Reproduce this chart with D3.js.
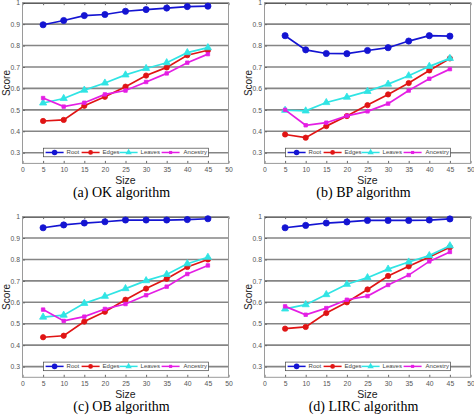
<!DOCTYPE html>
<html>
<head>
<meta charset="utf-8">
<script src="https://cdn.jsdelivr.net/npm/d3@7"></script>
<style>
  body { margin: 0; background: #fff; }
  svg { display: block; }
  .tick text { fill: #555; }
</style>
</head>
<body>
<svg id="chart" width="474" height="416"></svg>
<script>
// x values shared by all four panels
var sizes = [5, 10, 15, 20, 25, 30, 35, 40, 45];
var xTicks = [0, 5, 10, 15, 20, 25, 30, 35, 40, 45, 50];
var yTicks = [0.3, 0.4, 0.5, 0.6, 0.7, 0.8, 0.9, 1];
var seriesNames = ["Root", "Edges", "Leaves", "Ancestry"];
var titles = ["(a) OK algorithm", "(b) BP algorithm", "(c) OB algorithm", "(d) LIRC algorithm"];

// scores
var okRoot     = [0.897, 0.917, 0.940, 0.945, 0.960, 0.968, 0.975, 0.982, 0.984];
var okEdges    = [0.448, 0.453, 0.519, 0.561, 0.608, 0.660, 0.698, 0.755, 0.778];
var okLeaves   = [0.532, 0.553, 0.592, 0.625, 0.663, 0.693, 0.720, 0.767, 0.790];
var okAncestry = [0.555, 0.515, 0.533, 0.572, 0.590, 0.630, 0.670, 0.720, 0.760];

var bpRoot     = [0.846, 0.780, 0.763, 0.762, 0.777, 0.790, 0.821, 0.846, 0.844];
var bpEdges    = [0.385, 0.370, 0.424, 0.471, 0.522, 0.572, 0.625, 0.684, 0.740];
var bpLeaves   = [0.498, 0.495, 0.534, 0.559, 0.586, 0.620, 0.659, 0.703, 0.740];
var bpAncestry = [0.500, 0.428, 0.440, 0.472, 0.493, 0.529, 0.590, 0.645, 0.690];

var obRoot     = [0.948, 0.961, 0.970, 0.976, 0.984, 0.984, 0.984, 0.986, 0.990];
var obEdges    = [0.437, 0.444, 0.510, 0.556, 0.612, 0.664, 0.710, 0.765, 0.800];
var obLeaves   = [0.531, 0.540, 0.595, 0.628, 0.664, 0.701, 0.730, 0.780, 0.810];
var obAncestry = [0.566, 0.513, 0.533, 0.569, 0.592, 0.633, 0.673, 0.732, 0.772];

var lircRoot     = [0.948, 0.959, 0.970, 0.975, 0.982, 0.982, 0.982, 0.984, 0.989];
var lircEdges    = [0.477, 0.485, 0.550, 0.600, 0.660, 0.723, 0.768, 0.811, 0.857];
var lircLeaves   = [0.569, 0.589, 0.636, 0.684, 0.715, 0.755, 0.788, 0.818, 0.864];
var lircAncestry = [0.581, 0.542, 0.573, 0.612, 0.629, 0.681, 0.727, 0.791, 0.835];

var panelData = [
  [okRoot, okEdges, okLeaves, okAncestry],
  [bpRoot, bpEdges, bpLeaves, bpAncestry],
  [obRoot, obEdges, obLeaves, obAncestry],
  [lircRoot, lircEdges, lircLeaves, lircAncestry]
];

var colours = ["#1414d2", "#e01414", "#30e4e4", "#e41ee4"];
var markers = [d3.symbolCircle, d3.symbolCircle, d3.symbolTriangle, d3.symbolSquare];
var markerSize = [30, 22, 22, 12];

// plot boxes [left, top] of each panel
var boxes = [[22.5, 2.7], [264.5, 2.7], [22.5, 216.6], [264.5, 216.6]];
var plotW = 206, plotH = 160.7;

var svg = d3.select("#chart");

function drawPanel(p) {
  var left = boxes[p][0], top = boxes[p][1];
  var g = svg.append("g").attr("transform", "translate(" + left + "," + top + ")");

  var x = d3.scaleLinear().domain([0, 50]).range([0, plotW]);
  var y = d3.scaleLinear().domain([0.25, 1]).range([plotH, 0]);

  g.append("rect")
    .attr("width", plotW).attr("height", plotH)
    .attr("fill", "#fff");

  // grid
  g.selectAll(".grid")
    .data(yTicks.filter(function(d) { return d < 1; }))
    .enter().append("line")
    .attr("x1", 0).attr("x2", plotW)
    .attr("y1", function(d) { return y(d); })
    .attr("y2", function(d) { return y(d); })
    .attr("stroke", "#858585")
    .attr("stroke-width", 1.6);

  var xAxis = g.append("g")
    .attr("transform", "translate(0," + plotH + ")")
    .call(d3.axisBottom(x).tickValues(xTicks).tickSizeInner(-2.5).tickSizeOuter(0).tickPadding(4));
  var yAxis = g.append("g")
    .call(d3.axisLeft(y).tickValues(yTicks).tickSizeInner(-2.5).tickSizeOuter(0).tickPadding(2.5)
      .tickFormat(function(d) { return d === 1 ? "1" : d3.format(".1f")(d); }));
  // top ticks (box on)
  g.append("g")
    .call(d3.axisTop(x).tickValues(xTicks).tickSizeInner(-2.5).tickSizeOuter(0).tickFormat(""));

  [xAxis, yAxis].forEach(function(a) {
    a.selectAll("text").attr("font-family", "Liberation Sans, Arial, sans-serif").attr("font-size", 6.8);
    a.select(".domain").remove();
  });
  g.selectAll(".tick line").attr("stroke", "#666");

  g.append("rect")
    .attr("width", plotW).attr("height", plotH)
    .attr("fill", "none")
    .attr("stroke", "#9a9a9a")
    .attr("stroke-width", 1);

  var line = d3.line()
    .x(function(d, i) { return x(sizes[i]); })
    .y(function(d) { return y(d); });

  panelData[p].forEach(function(vals, s) {
    g.append("path")
      .datum(vals)
      .attr("d", line)
      .attr("fill", "none")
      .attr("stroke", colours[s])
      .attr("stroke-width", 1.7);
    g.selectAll(".m" + s)
      .data(vals)
      .enter().append("path")
      .attr("d", d3.symbol().type(markers[s]).size(markerSize[s]))
      .attr("transform", function(d, i) { return "translate(" + x(sizes[i]) + "," + y(d) + ")"; })
      .attr("fill", colours[s])
      .attr("stroke", colours[s])
      .attr("stroke-width", 0.8);
  });

  // legend
  var lx = x(5) + 0.5, lw = x(45) - x(5), ly = y(0.3) - 4.5;
  var lg = g.append("g").attr("transform", "translate(" + lx + "," + ly + ")");
  lg.append("rect")
    .attr("width", lw).attr("height", 8.6)
    .attr("fill", "#fff").attr("stroke", "#444").attr("stroke-width", 0.7);
  var entryX = [2, 38, 76, 118];
  var textX = [23, 59, 97, 140];
  seriesNames.forEach(function(name, s) {
    lg.append("line")
      .attr("x1", entryX[s]).attr("x2", entryX[s] + 18)
      .attr("y1", 4.3).attr("y2", 4.3)
      .attr("stroke", colours[s]).attr("stroke-width", 1.5);
    lg.append("path")
      .attr("d", d3.symbol().type(markers[s]).size(markerSize[s] * 0.8))
      .attr("transform", "translate(" + (entryX[s] + 9) + ",4.3)")
      .attr("fill", colours[s]);
    lg.append("text")
      .attr("x", textX[s]).attr("y", 6.3)
      .attr("font-family", "Liberation Sans, Arial, sans-serif")
      .attr("font-size", 6)
      .attr("fill", "#444")
      .text(name);
  });

  // axis labels and caption
  g.append("text")
    .attr("x", plotW / 2).attr("y", plotH + 21)
    .attr("text-anchor", "middle")
    .attr("font-family", "Liberation Sans, Arial, sans-serif")
    .attr("font-size", 10.5)
    .attr("fill", "#222")
    .text("Size");
  g.append("text")
    .attr("transform", "translate(" + (-13) + "," + (plotH / 2) + ") rotate(-90)")
    .attr("text-anchor", "middle")
    .attr("font-family", "Liberation Sans, Arial, sans-serif")
    .attr("font-size", 10)
    .attr("fill", "#222")
    .text("Score");
  g.append("text")
    .attr("x", plotW / 2 - 4).attr("y", plotH + 34)
    .attr("text-anchor", "middle")
    .attr("font-family", "Liberation Serif, Times New Roman, serif")
    .attr("font-size", 14)
    .attr("fill", "#000")
    .text(titles[p]);
}

for (var p = 0; p < 4; p++) {
  drawPanel(p);
}
</script>
</body>
</html>
